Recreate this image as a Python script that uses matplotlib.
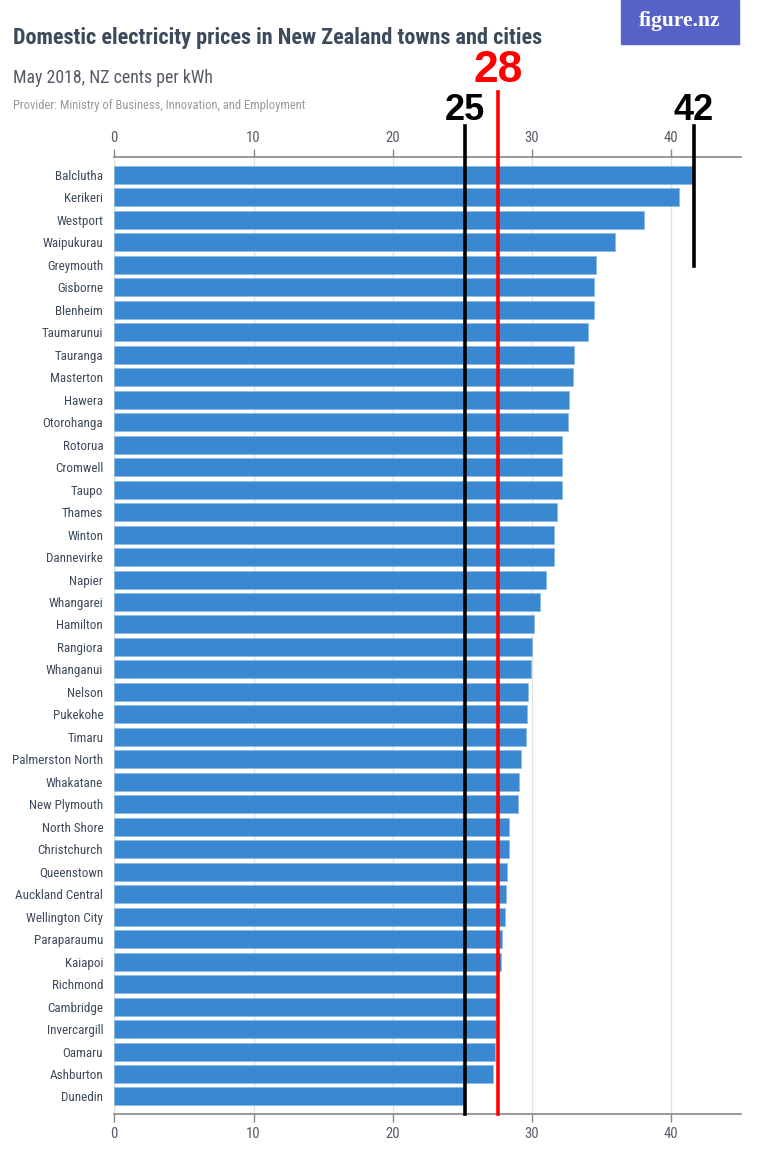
import matplotlib
matplotlib.use("Agg")
import logging
import matplotlib.pyplot as plt
import matplotlib.transforms as mtransforms

logging.getLogger("matplotlib.font_manager").setLevel(logging.ERROR)

# Data (May 2018, NZ cents per kWh)
towns = ["Balclutha", "Kerikeri", "Westport", "Waipukurau", "Greymouth", "Gisborne",
         "Blenheim", "Taumarunui", "Tauranga", "Masterton", "Hawera", "Otorohanga",
         "Rotorua", "Cromwell", "Taupo", "Thames", "Winton", "Dannevirke", "Napier",
         "Whangarei", "Hamilton", "Rangiora", "Whanganui", "Nelson", "Pukekohe",
         "Timaru", "Palmerston North", "Whakatane", "New Plymouth", "North Shore",
         "Christchurch", "Queenstown", "Auckland Central", "Wellington City",
         "Paraparaumu", "Kaiapoi", "Richmond", "Cambridge", "Invercargill", "Oamaru",
         "Ashburton", "Dunedin"]
prices = [41.6, 40.55, 38.05, 36.0, 34.6, 34.46, 34.45, 34.05, 33.0, 32.95, 32.69,
          32.62, 32.19, 32.16, 32.14, 31.78, 31.59, 31.59, 31.03, 30.58, 30.17, 30.03,
          29.91, 29.72, 29.67, 29.6, 29.24, 29.05, 29.02, 28.38, 28.33, 28.23, 28.12,
          28.04, 27.87, 27.76, 27.54, 27.54, 27.42, 27.35, 27.2, 25.12]

# hand-drawn reference markers
marker_vals = [25.2, 27.6, 41.65]
marker_cols = ["black", "red", "black"]

W, H = 760, 1158
fig = plt.figure(figsize=(W / 100, H / 100), dpi=100)

narrow = ["Roboto Condensed", "Archivo Narrow", "Roboto", "DejaVu Sans"]
txt_col = "#3d4a5c"

# axes box in pixels
x0, x1, ytop, ybot = 114.3, 740.7, 157, 1114
ax = fig.add_axes([x0 / W, 1 - ybot / H, (x1 - x0) / W, (ybot - ytop) / H])

ypos = list(range(len(towns)))
ax.barh(ypos, prices, height=0.8, color="#3a88d2", edgecolor="#8ab8e4",
        linewidth=0.5, zorder=2)
ax.set_xlim(0, 45)
ax.set_ylim(len(towns) - 0.22, -0.8)

ax.set_xticks([0, 10, 20, 30, 40])
ax.set_yticks(ypos)
ax.set_yticklabels(towns, fontfamily=narrow, fontsize=9.4, color=txt_col)
ax.tick_params(axis="y", length=0, pad=8)
ax.tick_params(axis="x", top=True, labeltop=True, bottom=True, labelbottom=True,
               direction="out", length=6, width=1, color="#888888", pad=3,
               labelsize=10.5, labelcolor="#555a66")
for lbl in ax.get_xticklabels():
    lbl.set_fontfamily(narrow)

ax.grid(axis="x", color="#e2e2e2", linewidth=1, zorder=0)
for s in ["left", "right"]:
    ax.spines[s].set_visible(False)
for s in ["top", "bottom"]:
    ax.spines[s].set_color("#888888")
    ax.spines[s].set_linewidth(1.2)

# markers drawn over the bars
axh = ybot - ytop
tops = [1 + 31 / axh, 1 + 65 / axh, 1 + 31 / axh]
bottoms = [0, 0, 1 - 109 / axh]
lab_y = [1 + 47 / axh, 1 + 86 / axh, 1 + 47 / axh]
lab_size = [26, 32, 26]
trans = mtransforms.blended_transform_factory(ax.transData, ax.transAxes)
for v, c, t, b, ly, fs in zip(marker_vals, marker_cols, tops, bottoms, lab_y, lab_size):
    ax.axvline(v, ymin=b, ymax=t, color=c, linewidth=2.6, clip_on=False, zorder=5)
    ax.text(v, ly, f"{round(v)}", transform=trans, ha="center", va="center",
            fontsize=fs, fontweight="bold", color=c, fontfamily="Liberation Sans",
            zorder=6)

# headings
fig.text(13 / W, 1 - 38 / H, "Domestic electricity prices in New Zealand towns and cities",
         fontsize=16, fontweight="bold", color=txt_col, fontfamily=narrow, va="center")
fig.text(13 / W, 1 - 78 / H, "May 2018, NZ cents per kWh",
         fontsize=12.8, color="#555a66", fontfamily=narrow, va="center")
fig.text(13 / W, 1 - 106 / H, "Provider: Ministry of Business, Innovation, and Employment",
         fontsize=9, color="#999999", fontfamily=narrow, va="center")

# logo box
fig.patches.append(plt.Rectangle((621 / W, 1 - 44 / H), 118 / W, 44 / H,
                                 transform=fig.transFigure, color="#5662c8", zorder=1))
fig.text(680 / W, 1 - 21 / H, "figure.nz", fontsize=15.5, fontweight="bold",
         color="white", fontfamily="Liberation Serif", ha="center", va="center")

fig.savefig("out.png", dpi=100)
